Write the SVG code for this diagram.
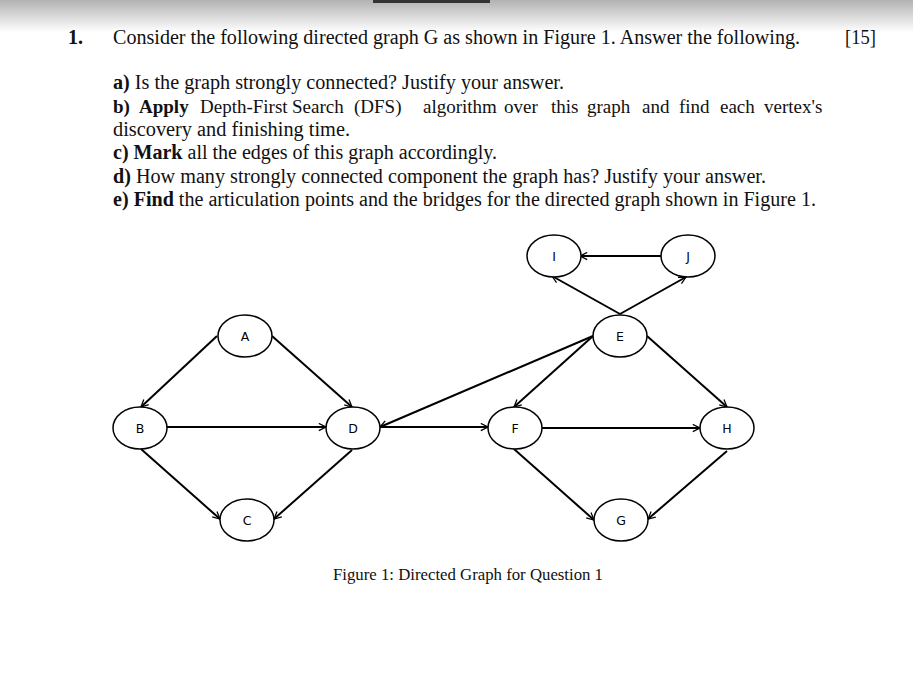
<svg xmlns="http://www.w3.org/2000/svg" width="913" height="678" viewBox="0 0 913 678">
<defs>
<linearGradient id="topfade" x1="0" y1="0" x2="0" y2="1">
<stop offset="0" stop-color="#b2b2b2"/>
<stop offset="1" stop-color="#ffffff"/>
</linearGradient>
<marker id="arr" viewBox="0 0 10 10" refX="9" refY="5" markerWidth="9" markerHeight="9" markerUnits="userSpaceOnUse" orient="auto">
<path d="M1,1 L9,5 L1,9" fill="none" stroke="#000" stroke-width="1.4"/>
</marker>
<style>
.q{font-family:"Liberation Serif","Times New Roman",serif;font-size:20px;fill:#111;}
.q19{font-size:19px;}
.b{font-weight:bold;}
.cap{font-family:"Liberation Serif","Times New Roman",serif;font-size:16px;fill:#111;}
.node ellipse{fill:#fff;stroke:#000;stroke-width:1.5;}
.node text{font-family:"DejaVu Sans","Liberation Sans",sans-serif;font-size:12.5px;fill:#000;text-anchor:middle;}
.edge{stroke:#000;stroke-width:2;fill:none;marker-end:url(#arr);}
</style>
</defs>
<rect x="0" y="0" width="913" height="678" fill="#fff"/>
<rect x="0" y="0" width="913" height="32" fill="url(#topfade)"/>
<rect x="373" y="0" width="117" height="3" fill="#333"/>

<text class="q b" x="68" y="44">1.</text>
<text class="q" x="113" y="44" textLength="687" lengthAdjust="spacingAndGlyphs">Consider the following directed graph G as shown in Figure 1. Answer the following.</text>
<text class="q" x="845" y="44" textLength="31" lengthAdjust="spacingAndGlyphs">[15]</text>

<text class="q" x="113" y="89" textLength="451" lengthAdjust="spacingAndGlyphs"><tspan class="b">a)</tspan> Is the graph strongly connected? Justify your answer.</text>
<text class="q q19" y="113"><tspan class="b" x="113">b)</tspan><tspan class="b" x="139">Apply</tspan><tspan x="200">Depth-First</tspan><tspan x="292">Search</tspan><tspan x="354">(DFS)</tspan><tspan x="423">algorithm</tspan><tspan x="504">over</tspan><tspan x="551">this</tspan><tspan x="587">graph</tspan><tspan x="642">and</tspan><tspan x="679">find</tspan><tspan x="720">each</tspan><tspan x="764">vertex's</tspan></text>
<text class="q" x="113" y="136" textLength="237" lengthAdjust="spacingAndGlyphs">discovery and finishing time.</text>
<text class="q" x="113" y="159" textLength="384" lengthAdjust="spacingAndGlyphs"><tspan class="b">c) Mark</tspan> all the edges of this graph accordingly.</text>
<text class="q" x="113" y="183" textLength="653" lengthAdjust="spacingAndGlyphs"><tspan class="b">d)</tspan> How many strongly connected component the graph has? Justify your answer.</text>
<text class="q" x="113" y="206" textLength="703" lengthAdjust="spacingAndGlyphs"><tspan class="b">e) Find</tspan> the articulation points and the bridges for the directed graph shown in Figure 1.</text>

<g id="edges">
<line class="edge" x1="217" y1="336" x2="141" y2="407"/>
<line class="edge" x1="272" y1="336" x2="352" y2="407"/>
<line class="edge" x1="167" y1="427" x2="326" y2="427"/>
<line class="edge" x1="141" y1="449" x2="220" y2="519"/>
<line class="edge" x1="352" y1="450" x2="274" y2="519"/>
<line class="edge" x1="593" y1="336" x2="380" y2="427"/>
<line class="edge" x1="380" y1="427" x2="488" y2="427"/>
<line class="edge" x1="593" y1="336" x2="514" y2="407"/>
<line class="edge" x1="542" y1="428" x2="700" y2="428"/>
<line class="edge" x1="514" y1="449" x2="594" y2="520"/>
<line class="edge" x1="647" y1="336" x2="727" y2="407"/>
<line class="edge" x1="727" y1="451" x2="648" y2="519"/>
<line class="edge" x1="620" y1="314" x2="552" y2="276"/>
<line class="edge" x1="620" y1="314" x2="686" y2="277"/>
<line class="edge" x1="663" y1="256" x2="580" y2="256"/>
</g>

<g id="node-A" class="node"><ellipse cx="245" cy="336" rx="27" ry="21"/><text x="245" y="340.5">A</text></g>
<g id="node-B" class="node"><ellipse cx="140" cy="428" rx="27" ry="21"/><text x="140" y="432.5">B</text></g>
<g id="node-D" class="node"><ellipse cx="353" cy="428" rx="27" ry="21"/><text x="353" y="432.5">D</text></g>
<g id="node-C" class="node"><ellipse cx="247" cy="520" rx="27" ry="21"/><text x="247" y="524.5">C</text></g>
<g id="node-E" class="node"><ellipse cx="620" cy="336" rx="27" ry="21"/><text x="620" y="340.5">E</text></g>
<g id="node-F" class="node"><ellipse cx="515" cy="428" rx="27" ry="21"/><text x="515" y="432.5">F</text></g>
<g id="node-G" class="node"><ellipse cx="621" cy="520" rx="27" ry="21"/><text x="621" y="524.5">G</text></g>
<g id="node-H" class="node"><ellipse cx="727" cy="428" rx="27" ry="21"/><text x="727" y="432.5">H</text></g>
<g id="node-I" class="node"><ellipse cx="554" cy="256" rx="27" ry="21"/><text x="554" y="260.5">I</text></g>
<g id="node-J" class="node"><ellipse cx="688" cy="256" rx="27" ry="21"/><text x="688" y="260.5">J</text></g>

<text class="cap" x="333" y="580" textLength="270" lengthAdjust="spacingAndGlyphs">Figure 1: Directed Graph for Question 1</text>
</svg>
